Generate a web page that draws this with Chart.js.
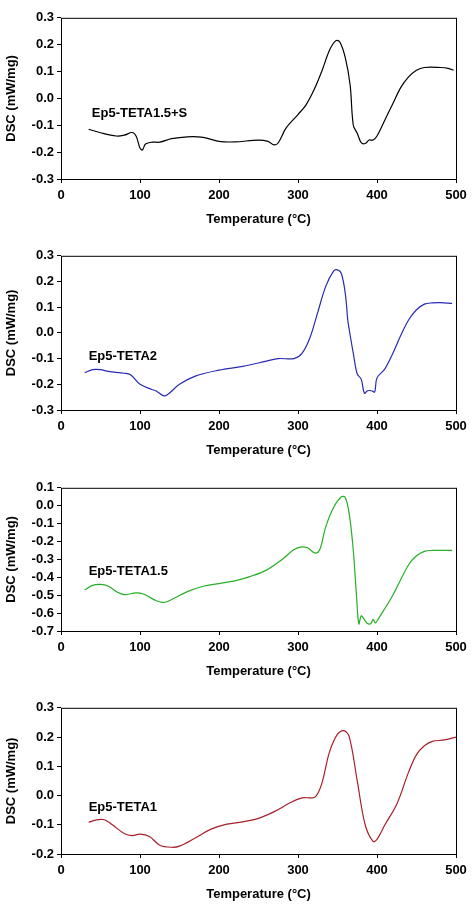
<!DOCTYPE html>
<html><head><meta charset="utf-8">
<script src="https://cdn.jsdelivr.net/npm/chart.js@4/dist/chart.umd.min.js"></script>
<style>body{margin:0;background:#fff;width:474px;height:906px;position:relative;overflow:hidden}
.c{position:absolute;left:0;width:474px}</style></head><body>
<div class="c" id="w0"><canvas id="c0"></canvas></div>
<div class="c" id="w1"><canvas id="c1"></canvas></div>
<div class="c" id="w2"><canvas id="c2"></canvas></div>
<div class="c" id="w3"><canvas id="c3"></canvas></div>
<script>
const labels = ["Ep5-TETA1.5+S","Ep5-TETA2","Ep5-TETA1.5","Ep5-TETA1"];
const x1=[35,50,70,80,90,95,100,103,107,115,125,140,160,180,200,220,250,262,270,275,285,300,310,320,330,340,348,353,360,366,370,375,380,385,390,395,400,410,420,430,440,450,460,480,490,497];
const y1=[-0.115,-0.128,-0.14,-0.137,-0.127,-0.14,-0.185,-0.192,-0.17,-0.163,-0.163,-0.15,-0.143,-0.145,-0.16,-0.162,-0.155,-0.16,-0.173,-0.165,-0.11,-0.06,-0.025,0.03,0.1,0.18,0.215,0.21,0.15,0.05,-0.1,-0.13,-0.165,-0.168,-0.155,-0.155,-0.14,-0.08,-0.02,0.04,0.08,0.105,0.115,0.115,0.112,0.105];
const x2=[30,40,50,60,80,88,100,115,120,130,135,150,170,200,230,260,275,295,305,315,325,335,345,350,355,360,363,365,370,375,380,384,388,393,397,400,410,420,430,440,450,460,470,480,495];
const y2=[-0.155,-0.143,-0.143,-0.15,-0.157,-0.163,-0.2,-0.22,-0.225,-0.245,-0.24,-0.2,-0.168,-0.145,-0.13,-0.11,-0.1,-0.1,-0.08,-0.02,0.08,0.18,0.24,0.245,0.23,0.15,0.05,0.01,-0.08,-0.16,-0.18,-0.235,-0.225,-0.225,-0.23,-0.175,-0.14,-0.08,-0.01,0.05,0.09,0.112,0.117,0.118,0.115];
const x3=[30,40,50,60,70,80,95,105,120,128,135,160,180,200,220,240,260,280,295,305,312,322,328,335,345,355,360,365,370,374,377,380,383,387,392,395,398,402,420,440,450,460,470,495];
const y3=[-0.47,-0.445,-0.44,-0.45,-0.48,-0.497,-0.487,-0.495,-0.53,-0.54,-0.535,-0.48,-0.45,-0.435,-0.42,-0.395,-0.36,-0.3,-0.245,-0.23,-0.235,-0.265,-0.24,-0.12,-0.01,0.05,0.045,-0.05,-0.25,-0.5,-0.66,-0.615,-0.63,-0.655,-0.66,-0.635,-0.655,-0.63,-0.5,-0.33,-0.28,-0.255,-0.25,-0.25];
const x4=[35,45,55,65,80,90,100,112,125,140,150,170,190,210,230,250,270,290,305,315,322,330,340,350,358,365,375,385,395,400,410,425,440,450,460,470,485,500];
const y4=[-0.092,-0.083,-0.083,-0.1,-0.13,-0.137,-0.132,-0.14,-0.17,-0.177,-0.173,-0.145,-0.115,-0.098,-0.09,-0.078,-0.055,-0.025,-0.008,-0.008,-0.005,0.04,0.15,0.21,0.222,0.2,0.05,-0.1,-0.157,-0.15,-0.1,-0.03,0.08,0.14,0.17,0.185,0.19,0.2];
const yMin=[-0.3,-0.3,-0.7,-0.2], yMax=[0.3,0.3,0.1,0.3];
const labelPos=[[39,-0.056],[35,-0.091],[35,-0.367],[35,-0.04]];
const xs=[x1,x2,x3,x4], ys=[y1,y2,y3,y4];
const colors=['#000000','#2a2ab4','#25b025','#a8202a'];
const plotTop=[17,255,487,707], plotBot=[179,410,631,854];
const F='"Liberation Sans", Arial, sans-serif';
const frame={id:'frame',afterDraw(ch){const a=ch.chartArea,c=ch.ctx;c.save();c.strokeStyle='#000';c.lineWidth=1;c.strokeRect(a.left+0.5,a.top+0.5,a.right-a.left,a.bottom-a.top);
 const i=ch.options.plugins.idx;const p=labelPos[i];c.fillStyle='#000';c.font='bold 13px '+F;c.textBaseline='middle';
 c.fillText(labels[i],ch.scales.x.getPixelForValue(p[0]),ch.scales.y.getPixelForValue(p[1]));c.restore();}};
for(let i=0;i<4;i++){
 const top=plotTop[i]-10, h=plotBot[i]-plotTop[i]+10+52;
 const w=document.getElementById('w'+i);w.style.top=top+'px';w.style.height=h+'px';
 new Chart(document.getElementById('c'+i),{type:'line',
  data:{datasets:[{data:xs[i].map((x,k)=>({x,y:ys[i][k]})),borderColor:colors[i],borderWidth:1.2,pointRadius:0,tension:0.35,fill:false}]},
  options:{responsive:true,maintainAspectRatio:false,animation:false,devicePixelRatio:1,
   layout:{padding:{top:10,right:18,left:0,bottom:0}},
   plugins:{legend:{display:false},tooltip:{enabled:false},idx:i},
   scales:{
    x:{type:'linear',min:0,max:500,ticks:{stepSize:100,autoSkip:false,color:'#000',font:{family:F,size:13,weight:'bold'},padding:5},
       grid:{drawOnChartArea:false,tickLength:4,color:'#000'},border:{display:false},
       title:{display:true,text:'Temperature (°C)',color:'#000',font:{family:F,size:13,weight:'bold'},padding:{top:2}},
       afterFit(s){s.height=52;}},
    y:{min:yMin[i],max:yMax[i],ticks:{stepSize:0.1,autoSkip:false,color:'#000',font:{family:F,size:13,weight:'bold'},padding:3,callback:v=>(Math.abs(v)<1e-9?0:v).toFixed(1)},
       grid:{drawOnChartArea:false,tickLength:4,color:'#000'},border:{display:false},
       title:{display:true,text:'DSC (mW/mg)',color:'#000',font:{family:F,size:13,weight:'bold'},padding:{bottom:2}},
       afterFit(s){s.width=61;}}
   }},plugins:[frame]});
}
</script></body></html>
